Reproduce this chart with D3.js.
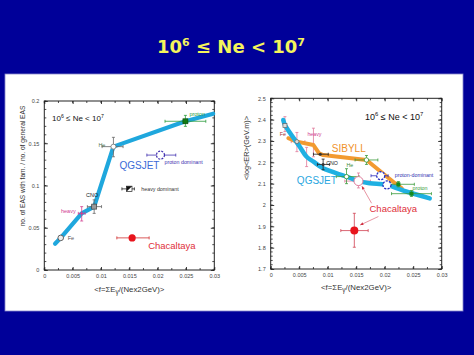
<!DOCTYPE html>
<html><head><meta charset="utf-8">
<script src="https://cdn.jsdelivr.net/npm/d3@7"></script>
<style>
html,body{margin:0;padding:0;background:#000099;}
svg{display:block;}
</style></head>
<body>
<svg id="c" width="474" height="355"></svg>
<script>
// ---------- DATA ----------
const xTicks = [0, 0.005, 0.01, 0.015, 0.02, 0.025, 0.03];
const xTickLabels = ["0", "0.005", "0.01", "0.015", "0.02", "0.025", "0.03"];
const leftYTicks = [0, 0.05, 0.1, 0.15, 0.2];
const leftYTickLabels = ["0", "0.05", "0.1", "0.15", "0.2"];
const rightYTicks = [1.7, 1.8, 1.9, 2.0, 2.1, 2.2, 2.3, 2.4, 2.5];
const rightYTickLabels = ["1.7", "1.8", "1.9", "2", "2.1", "2.2", "2.3", "2.4", "2.5"];

// left panel: QGSJET curve
const leftQgsX = [0.0019, 0.0029, 0.0066, 0.0088, 0.0122, 0.0249, 0.0298];
const leftQgsY = [0.031, 0.038, 0.067, 0.075, 0.146, 0.176, 0.185];

// left panel points
const leftPtNames = ["Fe", "heavy", "CNO", "He", "proton", "proton dominant", "heavy dominant", "Chacaltaya"];
const leftPtX    = [0.0029, 0.0066, 0.0088, 0.0122, 0.0249, 0.0205, 0.0150, 0.0155];
const leftPtY    = [0.038, 0.067, 0.075, 0.146, 0.176, 0.136, 0.096, 0.038];
const leftPtXlo  = [0.0029, 0.0060, 0.0076, 0.0102, 0.0213, 0.0181, 0.0137, 0.0128];
const leftPtXhi  = [0.0029, 0.0072, 0.0101, 0.0139, 0.0285, 0.0232, 0.0159, 0.0185];
const leftPtYlo  = [0.038, 0.058, 0.067, 0.134, 0.170, 0.133, 0.094, 0.035];
const leftPtYhi  = [0.038, 0.075, 0.083, 0.157, 0.183, 0.139, 0.098, 0.041];

// right panel: QGSJET and SIBYLL curves
const rightQgsX = [0.0022, 0.0025, 0.0051, 0.0063, 0.0075, 0.0092, 0.0133, 0.0154, 0.0174, 0.0204, 0.0239, 0.0279];
const rightQgsY = [2.398, 2.375, 2.273, 2.226, 2.203, 2.172, 2.133, 2.112, 2.102, 2.094, 2.062, 2.031];
const rightSibX = [0.0031, 0.0046, 0.0075, 0.0085, 0.0092, 0.0168, 0.0218, 0.0230];
const rightSibY = [2.313, 2.297, 2.281, 2.242, 2.234, 2.211, 2.102, 2.078];

// right panel points
const rightPtNames = ["Fe(Q)", "Fe(S)", "heavy(S)", "heavy(Q)", "CNO(S)", "CNO(Q)", "He(S)", "He(Q)", "open", "pdom(S)", "pdom(Q)", "proton(S)", "proton(Q)", "Chacaltaya"];
const rightPtX   = [0.0025, 0.0046, 0.0075, 0.0063, 0.0087, 0.0092, 0.0168, 0.0133, 0.0154, 0.0193, 0.0204, 0.0224, 0.0247, 0.01467];
const rightPtY   = [2.372, 2.297, 2.281, 2.226, 2.238, 2.190, 2.211, 2.133, 2.112, 2.137, 2.094, 2.097, 2.053, 1.880];
const rightPtXlo = [0.0025, 0.0036, 0.0075, 0.0063, 0.0075, 0.0082, 0.0148, 0.0115, 0.0130, 0.0176, 0.0204, 0.0205, 0.0212, 0.0123];
const rightPtXhi = [0.0025, 0.0060, 0.0075, 0.0063, 0.0101, 0.0103, 0.0188, 0.0155, 0.0175, 0.0206, 0.0204, 0.0252, 0.0282, 0.0171];
const rightPtYlo = [2.344, 2.250, 2.226, 2.180, 2.238, 2.165, 2.190, 2.100, 2.080, 2.137, 2.094, 2.085, 2.040, 1.802];
const rightPtYhi = [2.414, 2.340, 2.360, 2.270, 2.238, 2.215, 2.232, 2.170, 2.150, 2.137, 2.094, 2.110, 2.068, 1.961];

// ---------- DRAWING ----------
const svg = d3.select("#c");
const FONT = "'Liberation Sans', Arial, sans-serif";

svg.append("rect").attr("x",0).attr("y",0).attr("width",474).attr("height",355).attr("fill","#000099");
svg.append("rect").attr("x",5).attr("y",74).attr("width",458).attr("height",237)
  .attr("fill","#ffffff").attr("stroke","#8888cc").attr("stroke-width",0.8);

// title
const title = svg.append("text").attr("x",231).attr("y",53).attr("text-anchor","middle")
  .attr("fill","#f4f45c").attr("font-family","'DejaVu Sans', sans-serif").attr("font-weight","bold")
  .attr("font-size",18);
title.append("tspan").text("10");
title.append("tspan").attr("dy",-7).attr("font-size",11).text("6");
title.append("tspan").attr("dy",7).text(" \u2264 Ne < 10");
title.append("tspan").attr("dy",-7).attr("font-size",11).text("7");

function makePanel(opt){
  const x = d3.scaleLinear().domain([0,0.03]).range([opt.x0,opt.x1]);
  const y = d3.scaleLinear().domain(opt.yDomain).range([opt.y1,opt.y0]);
  const g = svg.append("g");
  g.append("rect").attr("x",opt.x0).attr("y",opt.y0).attr("width",opt.x1-opt.x0).attr("height",opt.y1-opt.y0)
    .attr("fill","none").attr("stroke","#222").attr("stroke-width",1);
  const ax = [
    {axis:d3.axisBottom(x).tickValues(xTicks).tickFormat((d,i)=>xTickLabels[i]).tickSizeInner(-3).tickSizeOuter(0).tickPadding(4), t:`translate(0,${opt.y1})`},
    {axis:d3.axisTop(x).tickValues(xTicks).tickFormat("").tickSizeInner(-3).tickSizeOuter(0), t:`translate(0,${opt.y0})`},
    {axis:d3.axisLeft(y).tickValues(opt.yTicks).tickFormat((d,i)=>opt.yLabels[i]).tickSizeInner(-3.5).tickSizeOuter(0).tickPadding(5), t:`translate(${opt.x0},0)`},
    {axis:d3.axisRight(y).tickValues(opt.yTicks).tickFormat("").tickSizeInner(-3.5).tickSizeOuter(0), t:`translate(${opt.x1},0)`}
  ];
  ax.forEach(a=>{
    const ag = g.append("g").attr("transform",a.t).call(a.axis);
    ag.select(".domain").remove();
    ag.selectAll("line").attr("stroke","#222").attr("stroke-width",0.9);
    ag.selectAll("text").attr("font-family",FONT).attr("font-size",5.5).attr("fill","#444");
  });
  const yMin = d3.range(opt.yDomain[0], opt.yDomain[1]+1e-9, opt.yMinor);
  const xMin = d3.range(0, 0.0300001, 0.0025);
  [opt.x0, opt.x1].forEach((xx,k)=>{
    g.selectAll(null).data(yMin).join("line")
      .attr("x1",xx).attr("x2",xx + (k===0?2:-2)).attr("y1",d=>y(d)).attr("y2",d=>y(d))
      .attr("stroke","#222").attr("stroke-width",0.8);
  });
  [opt.y0, opt.y1].forEach((yy,k)=>{
    g.selectAll(null).data(xMin).join("line")
      .attr("y1",yy).attr("y2",yy + (k===0?2:-2)).attr("x1",d=>x(d)).attr("x2",d=>x(d))
      .attr("stroke","#222").attr("stroke-width",0.8);
  });
  const xl = g.append("text").attr("x",(opt.x0+opt.x1)/2).attr("y",opt.xLabelY).attr("text-anchor","middle")
    .attr("font-family",FONT).attr("font-size",7.8).attr("fill","#333");
  xl.append("tspan").text("<f=\u03A3E");
  xl.append("tspan").attr("font-size",6.5).attr("dy",1.5).text("\u03B3");
  xl.append("tspan").attr("dy",-1.5).text("/(Nex2GeV)>");
  g.append("text").attr("transform",`translate(${opt.yLabelX},${opt.yLabelCY}) rotate(-90)`)
    .attr("text-anchor","middle").attr("font-family",FONT).attr("font-size",opt.yLabelSize).attr("fill","#333")
    .text(opt.yLabel);
  const it = g.append("text").attr("x",opt.insetX).attr("y",opt.insetY).attr("font-family",FONT)
    .attr("font-size",opt.insetSize).attr("fill","#111");
  it.append("tspan").text("10");
  it.append("tspan").attr("dy",-opt.insetSize*0.4).attr("font-size",opt.insetSize*0.65).text("6");
  it.append("tspan").attr("dy",opt.insetSize*0.4).text(" \u2264 Ne < 10");
  it.append("tspan").attr("dy",-opt.insetSize*0.4).attr("font-size",opt.insetSize*0.65).text("7");
  return {x,y,g};
}

function errBars(g,x,y,xs,ys,xlo,xhi,ylo,yhi,idx,color,w){
  idx.forEach(i=>{
    if(xlo[i]!==xhi[i]){
      g.append("line").attr("x1",x(xlo[i])).attr("x2",x(xhi[i])).attr("y1",y(ys[i])).attr("y2",y(ys[i]))
        .attr("stroke",color).attr("stroke-width",w||0.8);
      [xlo[i],xhi[i]].forEach(v=>g.append("line").attr("x1",x(v)).attr("x2",x(v)).attr("y1",y(ys[i])-1.5).attr("y2",y(ys[i])+1.5).attr("stroke",color).attr("stroke-width",w||0.8));
    }
    if(ylo[i]!==yhi[i]){
      g.append("line").attr("x1",x(xs[i])).attr("x2",x(xs[i])).attr("y1",y(ylo[i])).attr("y2",y(yhi[i]))
        .attr("stroke",color).attr("stroke-width",w||0.8);
      [ylo[i],yhi[i]].forEach(v=>g.append("line").attr("y1",y(v)).attr("y2",y(v)).attr("x1",x(xs[i])-1.5).attr("x2",x(xs[i])+1.5).attr("stroke",color).attr("stroke-width",w||0.8));
    }
  });
}

// ----- LEFT PANEL -----
const L = makePanel({x0:44.3,x1:214.3,y0:101,y1:270,yDomain:[0,0.2],yTicks:leftYTicks,yLabels:leftYTickLabels,yMinor:0.01,
  xLabelY:292,yLabelX:25,yLabelCY:166,yLabelSize:6.6,yLabel:"no. of EAS with fam. / no. of general EAS",
  insetX:52,insetY:121,insetSize:8});
{
  const {x,y,g} = L;
  const line = d3.line().x(d=>x(d[0])).y(d=>y(d[1]));
  g.append("path").attr("d",line(d3.zip(leftQgsX,leftQgsY))).attr("fill","none")
    .attr("stroke","#1fa7dd").attr("stroke-width",4.2).attr("stroke-linejoin","round").attr("stroke-linecap","round");
  errBars(g,x,y,leftPtX,leftPtY,leftPtXlo,leftPtXhi,leftPtYlo,leftPtYhi,[1],"#d04090");
  errBars(g,x,y,leftPtX,leftPtY,leftPtXlo,leftPtXhi,leftPtYlo,leftPtYhi,[2,3],"#666");
  errBars(g,x,y,leftPtX,leftPtY,leftPtXlo,leftPtXhi,leftPtYlo,leftPtYhi,[4],"#2a9a3a");
  errBars(g,x,y,leftPtX,leftPtY,leftPtXlo,leftPtXhi,leftPtYlo,leftPtYhi,[5],"#4030b0");
  errBars(g,x,y,leftPtX,leftPtY,leftPtXlo,leftPtXhi,leftPtYlo,leftPtYhi,[6],"#222");
  errBars(g,x,y,leftPtX,leftPtY,leftPtXlo,leftPtXhi,leftPtYlo,leftPtYhi,[7],"#d03030");
  g.append("circle").attr("cx",x(leftPtX[0])).attr("cy",y(leftPtY[0])).attr("r",2.8).attr("fill","#eee").attr("stroke","#555").attr("stroke-width",0.9);
  g.append("circle").attr("cx",x(leftPtX[1])).attr("cy",y(leftPtY[1])).attr("r",1.2).attr("fill","#d04090");
  g.append("rect").attr("x",x(leftPtX[2])-2.5).attr("y",y(leftPtY[2])-2.5).attr("width",5).attr("height",5).attr("fill","#999").attr("stroke","#444").attr("stroke-width",0.7);
  g.append("circle").attr("cx",x(leftPtX[3])).attr("cy",y(leftPtY[3])).attr("r",2.5).attr("fill","#fff").attr("stroke","#777").attr("stroke-width",0.8);
  g.append("rect").attr("x",x(leftPtX[4])-2.5).attr("y",y(leftPtY[4])-2.5).attr("width",5).attr("height",5).attr("fill","#137a13").attr("stroke","#0a4a0a").attr("stroke-width",0.6);
  g.append("circle").attr("cx",x(leftPtX[5])).attr("cy",y(leftPtY[5])).attr("r",4).attr("fill","#fff").attr("stroke","#4030b0").attr("stroke-width",1.2).attr("stroke-dasharray","2,1.2");
  const hx = x(leftPtX[6]), hy = y(leftPtY[6]);
  g.append("rect").attr("x",hx-2.7).attr("y",hy-2.7).attr("width",5.4).attr("height",5.4).attr("fill","#fff").attr("stroke","#222").attr("stroke-width",0.7);
  g.append("path").attr("d",`M${hx-2.7},${hy-2.7}L${hx+2.7},${hy-2.7}L${hx-2.7},${hy+2.7}Z`).attr("fill","#111");
  g.append("circle").attr("cx",x(leftPtX[7])).attr("cy",y(leftPtY[7])).attr("r",3.6).attr("fill","#e8141c");
  const lab = (t,xv,yv,dx,dy,col,size,anchor)=>g.append("text").attr("x",x(xv)+dx).attr("y",y(yv)+dy)
    .attr("font-family",FONT).attr("font-size",size).attr("fill",col).attr("text-anchor",anchor||"start").text(t);
  lab("Fe",leftPtX[0],leftPtY[0],7,2,"#555",5.5);
  lab("heavy",leftPtX[1],leftPtY[1],-6,0,"#d04090",5.5,"end");
  lab("CNO",leftPtX[2],leftPtY[2],-2,-10,"#222",5.5,"middle");
  lab("He",leftPtX[3],leftPtY[3],-8,0,"#557755",5.5,"end");
  lab("proton",leftPtX[4],leftPtY[4],4,-5,"#2a9a3a",5.5);
  lab("proton dominant",leftPtX[5],leftPtY[5],4,9,"#4030b0",5.3);
  lab("heavy dominant",leftPtX[6],leftPtY[6],12,2,"#333",5.3);
  lab("QGSJET",0.0122,0.146,6,22,"#3b6ad8",10);
  lab("Chacaltaya",leftPtX[7],leftPtY[7],16,11,"#e0303a",9.5);
}

// ----- RIGHT PANEL -----
const R = makePanel({x0:270.7,x1:441.7,y0:98.3,y1:269,yDomain:[1.7,2.5],yTicks:rightYTicks,yLabels:rightYTickLabels,yMinor:0.02,
  xLabelY:290,yLabelX:249,yLabelCY:148,yLabelSize:7.3,yLabel:"<log<ER>(GeV.m)>",
  insetX:365,insetY:120,insetSize:9});
{
  const {x,y,g} = R;
  const qLine = d3.line().curve(d3.curveCatmullRom.alpha(0.5)).x(d=>x(d[0])).y(d=>y(d[1]));
  const sLine = d3.line().x(d=>x(d[0])).y(d=>y(d[1]));
  errBars(g,x,y,rightPtX,rightPtY,rightPtXlo,rightPtXhi,rightPtYlo,rightPtYhi,[0,1,2,3,8],"#e07a9a");
  g.append("path").attr("d",sLine(d3.zip(rightSibX,rightSibY))).attr("fill","none")
    .attr("stroke","#f29a30").attr("stroke-width",4).attr("stroke-linejoin","round").attr("stroke-linecap","round");
  g.append("path").attr("d",qLine(d3.zip(rightQgsX,rightQgsY))).attr("fill","none")
    .attr("stroke","#1fb0e2").attr("stroke-width",4.5).attr("stroke-linejoin","round").attr("stroke-linecap","round");
  errBars(g,x,y,rightPtX,rightPtY,rightPtXlo,rightPtXhi,rightPtYlo,rightPtYhi,[4,5],"#222");
  errBars(g,x,y,rightPtX,rightPtY,rightPtXlo,rightPtXhi,rightPtYlo,rightPtYhi,[6,7,11,12],"#3a9a3a");
  errBars(g,x,y,rightPtX,rightPtY,rightPtXlo,rightPtXhi,rightPtYlo,rightPtYhi,[9],"#3030c0");
  errBars(g,x,y,rightPtX,rightPtY,rightPtXlo,rightPtXhi,rightPtYlo,rightPtYhi,[13],"#d04050");
  g.append("rect").attr("x",x(rightPtX[0])-2).attr("y",y(rightPtY[0])-2).attr("width",4).attr("height",4).attr("fill","#ddd").attr("stroke","#666").attr("stroke-width",0.7);
  g.append("circle").attr("cx",x(rightPtX[1])).attr("cy",y(rightPtY[1])).attr("r",2).attr("fill","#ddd").attr("stroke","#666").attr("stroke-width",0.7);
  g.append("circle").attr("cx",x(rightPtX[4])).attr("cy",y(rightPtY[4])).attr("r",1.5).attr("fill","#333");
  g.append("circle").attr("cx",x(rightPtX[5])).attr("cy",y(rightPtY[5])).attr("r",1.5).attr("fill","#333");
  [6,7].forEach(i=>g.append("circle").attr("cx",x(rightPtX[i])).attr("cy",y(rightPtY[i])).attr("r",2.2).attr("fill","#fff").attr("stroke","#3a9a3a").attr("stroke-width",0.8));
  g.append("circle").attr("cx",x(rightPtX[8])).attr("cy",y(rightPtY[8])).attr("r",4.5).attr("fill","#fff").attr("stroke","#e07a9a").attr("stroke-width",1);
  [9,10].forEach(i=>g.append("circle").attr("cx",x(rightPtX[i])).attr("cy",y(rightPtY[i])).attr("r",4).attr("fill","#fff").attr("stroke","#2830c0").attr("stroke-width",1.3).attr("stroke-dasharray","2.2,1.2"));
  [11,12].forEach(i=>g.append("rect").attr("x",x(rightPtX[i])-2).attr("y",y(rightPtY[i])-2).attr("width",4).attr("height",4).attr("fill","#128a20"));
  g.append("circle").attr("cx",x(rightPtX[13])).attr("cy",y(rightPtY[13])).attr("r",4).attr("fill","#e8141c");
  const arrow = (x1,y1,x2,y2)=>{
    const X1=x(x1),Y1=y(y1),X2=x(x2),Y2=y(y2);
    g.append("line").attr("x1",X1).attr("y1",Y1).attr("x2",X2).attr("y2",Y2).attr("stroke","#e07a8a").attr("stroke-width",0.8);
    const a = Math.atan2(Y2-Y1,X2-X1), s=3.5;
    g.append("path").attr("d",`M${X2},${Y2}L${X2-s*Math.cos(a-0.45)},${Y2-s*Math.sin(a-0.45)}L${X2-s*Math.cos(a+0.45)},${Y2-s*Math.sin(a+0.45)}Z`).attr("fill","#d03040");
  };
  arrow(0.0177,2.008,0.0160,2.088);
  arrow(0.0189,1.946,0.0157,1.906);
  const lab = (t,xv,yv,dx,dy,col,size,anchor)=>g.append("text").attr("x",x(xv)+dx).attr("y",y(yv)+dy)
    .attr("font-family",FONT).attr("font-size",size).attr("fill",col).attr("text-anchor",anchor||"start").text(t);
  lab("Fe",rightPtX[0],rightPtY[0],-2,10,"#a03030",5.3,"middle");
  lab("heavy",rightPtX[2],rightPtY[2],1,-9,"#d04090",5.3,"middle");
  lab("CNO",rightPtX[5],rightPtY[5],3,1,"#222",5.3);
  lab("He",rightPtX[7],rightPtY[7],0,-10,"#3a8a3a",5.3);
  lab("proton-dominant",rightPtX[9],rightPtY[9],14,1,"#3030b0",5.3);
  lab("proton",rightPtX[12],rightPtY[12],1,-4,"#3a9a3a",5.3);
  lab("SIBYLL",0.0137,2.2,0,-10,"#f0922a",10,"middle");
  lab("QGSJET",0.0081,2.1,0,0,"#2aa6e0",10,"middle");
  lab("Chacaltaya",0.0215,1.98,0,2.5,"#e0303a",9.5,"middle");
}
</script>
</body></html>
